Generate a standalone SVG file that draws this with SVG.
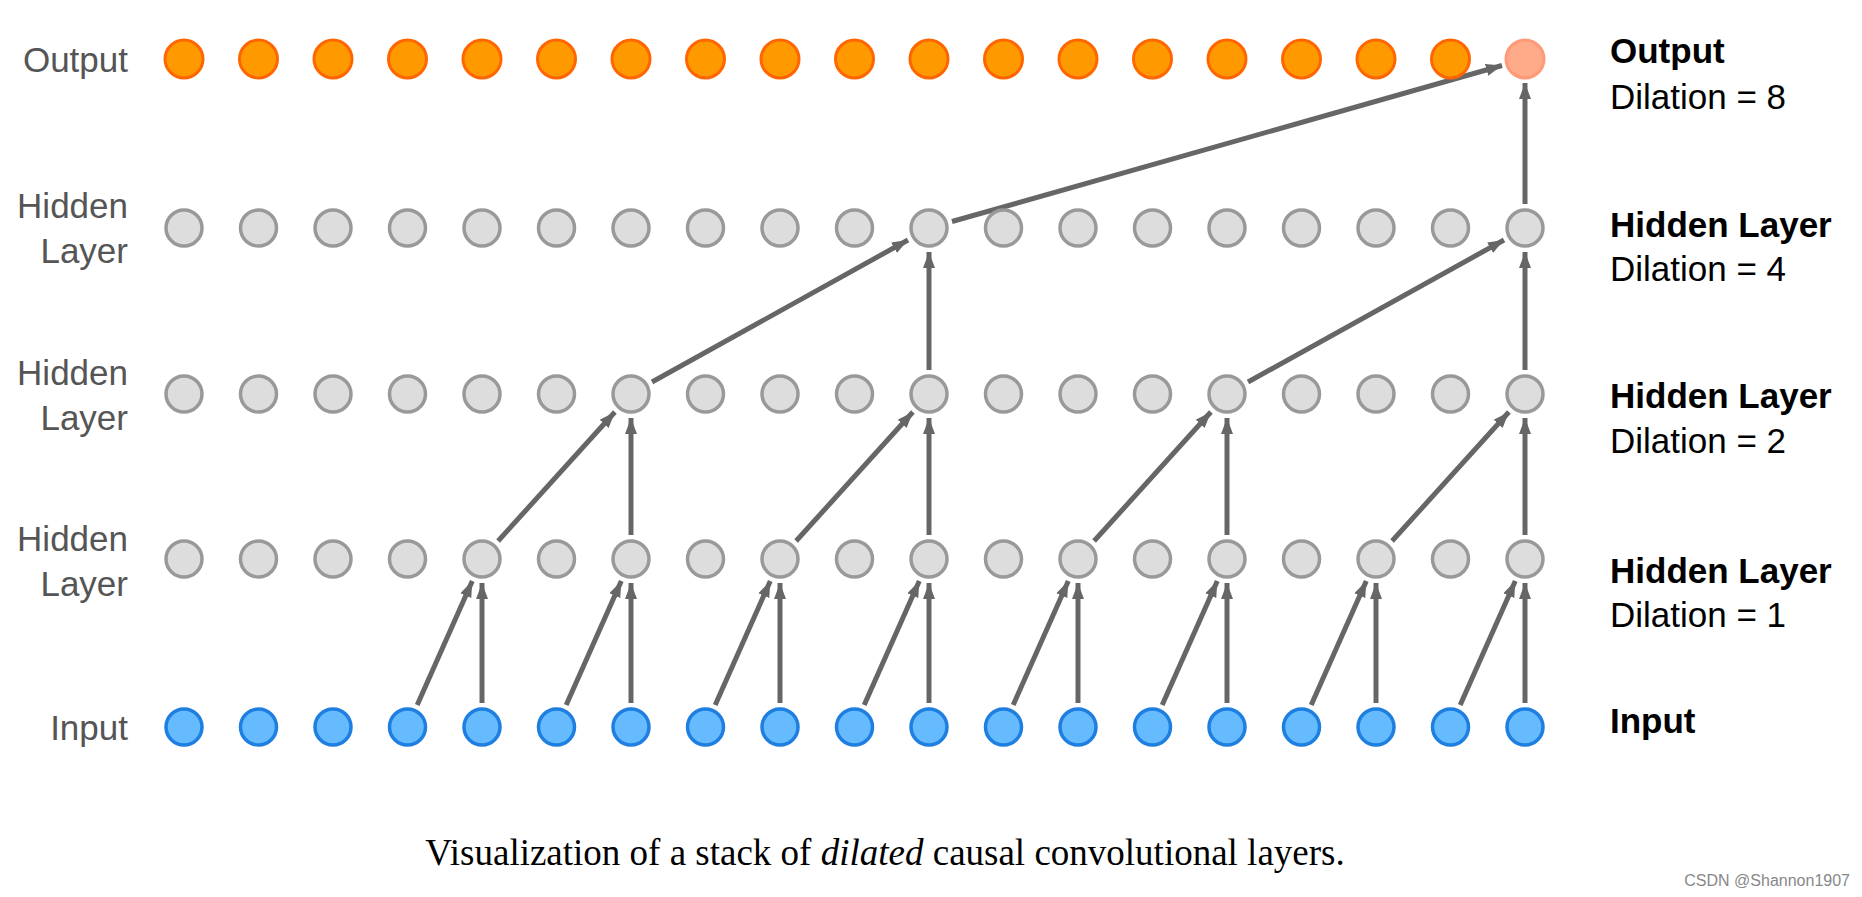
<svg xmlns="http://www.w3.org/2000/svg" width="1862" height="897" viewBox="0 0 1862 897">
<defs>
<style>
.o{fill:#FF9900;stroke:#FF6600;stroke-width:3}
.ol{fill:#FFAA88;stroke:#FF9977;stroke-width:3}
.h{fill:#DDDDDD;stroke:#999999;stroke-width:3.5}
.i{fill:#66BBFF;stroke:#1E7FE0;stroke-width:3.5}
.lab{font-family:"Liberation Sans",Arial,sans-serif;font-size:35px;fill:#555;text-anchor:end}
.rb{font-family:"Liberation Sans",Arial,sans-serif;font-size:35px;font-weight:bold;fill:#000}
.rn{font-family:"Liberation Sans",Arial,sans-serif;font-size:35px;fill:#000}
.cap{font-family:"Liberation Serif","Times New Roman",serif;font-size:37px;fill:#000;text-anchor:middle}
.wm{font-family:"Liberation Sans",Arial,sans-serif;font-size:16px;fill:#888;text-anchor:end}
#edges line{stroke:#666;stroke-width:5;marker-end:url(#ah)}
</style>
<marker id="ah" viewBox="0 0 16 12" refX="16" refY="6" markerWidth="16" markerHeight="13" markerUnits="userSpaceOnUse" orient="auto">
<path d="M0,0 L16,6 L0,12 z" fill="#666"/>
</marker>
</defs>
<rect width="1862" height="897" fill="#fff"/>
<g id="labels-left">
<text class="lab" x="128" y="72">Output</text>
<text class="lab" x="128" y="218">Hidden</text><text class="lab" x="128" y="263">Layer</text>
<text class="lab" x="128" y="385">Hidden</text><text class="lab" x="128" y="430">Layer</text>
<text class="lab" x="128" y="551">Hidden</text><text class="lab" x="128" y="596">Layer</text>
<text class="lab" x="128" y="740">Input</text>
</g>
<g id="labels-right">
<text class="rb" x="1610" y="63">Output</text><text class="rn" x="1610" y="109">Dilation = 8</text>
<text class="rb" x="1610" y="237">Hidden Layer</text><text class="rn" x="1610" y="281">Dilation = 4</text>
<text class="rb" x="1610" y="408">Hidden Layer</text><text class="rn" x="1610" y="453">Dilation = 2</text>
<text class="rb" x="1610" y="583">Hidden Layer</text><text class="rn" x="1610" y="627">Dilation = 1</text>
<text class="rb" x="1610" y="733">Input</text>
</g>
<g id="edges">
<line x1="482" y1="703" x2="482" y2="583"/><line x1="417.2" y1="705" x2="472.3" y2="581"/>
<line x1="631" y1="703" x2="631" y2="583"/><line x1="566.2" y1="705" x2="621.3" y2="581"/>
<line x1="780" y1="703" x2="780" y2="583"/><line x1="715.2" y1="705" x2="770.3" y2="581"/>
<line x1="929" y1="703" x2="929" y2="583"/><line x1="864.2" y1="705" x2="919.3" y2="581"/>
<line x1="1078" y1="703" x2="1078" y2="583"/><line x1="1013.2" y1="705" x2="1068.3" y2="581"/>
<line x1="1227" y1="703" x2="1227" y2="583"/><line x1="1162.2" y1="705" x2="1217.3" y2="581"/>
<line x1="1376" y1="703" x2="1376" y2="583"/><line x1="1311.2" y1="705" x2="1366.3" y2="581"/>
<line x1="1525" y1="703" x2="1525" y2="583"/><line x1="1460.2" y1="705" x2="1515.3" y2="581"/>
<line x1="631" y1="535" x2="631" y2="418"/><line x1="498.1" y1="541" x2="614.9" y2="412"/>
<line x1="929" y1="535" x2="929" y2="418"/><line x1="796.1" y1="541" x2="912.9" y2="412"/>
<line x1="1227" y1="535" x2="1227" y2="418"/><line x1="1094.1" y1="541" x2="1210.9" y2="412"/>
<line x1="1525" y1="535" x2="1525" y2="418"/><line x1="1392.1" y1="541" x2="1508.9" y2="412"/>
<line x1="929" y1="370" x2="929" y2="252"/><line x1="652" y1="382" x2="908" y2="240"/>
<line x1="1525" y1="370" x2="1525" y2="252"/><line x1="1248" y1="382" x2="1504" y2="240"/>
<line x1="1525" y1="204" x2="1525" y2="83"/><line x1="952" y1="221.5" x2="1502" y2="65.5"/>
</g>
<g id="output">
<circle class="o" cx="184" cy="59" r="19"/><circle class="o" cx="258.5" cy="59" r="19"/><circle class="o" cx="333" cy="59" r="19"/><circle class="o" cx="407.5" cy="59" r="19"/><circle class="o" cx="482" cy="59" r="19"/><circle class="o" cx="556.5" cy="59" r="19"/><circle class="o" cx="631" cy="59" r="19"/><circle class="o" cx="705.5" cy="59" r="19"/><circle class="o" cx="780" cy="59" r="19"/><circle class="o" cx="854.5" cy="59" r="19"/><circle class="o" cx="929" cy="59" r="19"/><circle class="o" cx="1003.5" cy="59" r="19"/><circle class="o" cx="1078" cy="59" r="19"/><circle class="o" cx="1152.5" cy="59" r="19"/><circle class="o" cx="1227" cy="59" r="19"/><circle class="o" cx="1301.5" cy="59" r="19"/><circle class="o" cx="1376" cy="59" r="19"/><circle class="o" cx="1450.5" cy="59" r="19"/><circle class="ol" cx="1525" cy="59" r="19"/>
</g>
<g id="hidden4">
<circle class="h" cx="184" cy="228" r="18"/><circle class="h" cx="258.5" cy="228" r="18"/><circle class="h" cx="333" cy="228" r="18"/><circle class="h" cx="407.5" cy="228" r="18"/><circle class="h" cx="482" cy="228" r="18"/><circle class="h" cx="556.5" cy="228" r="18"/><circle class="h" cx="631" cy="228" r="18"/><circle class="h" cx="705.5" cy="228" r="18"/><circle class="h" cx="780" cy="228" r="18"/><circle class="h" cx="854.5" cy="228" r="18"/><circle class="h" cx="929" cy="228" r="18"/><circle class="h" cx="1003.5" cy="228" r="18"/><circle class="h" cx="1078" cy="228" r="18"/><circle class="h" cx="1152.5" cy="228" r="18"/><circle class="h" cx="1227" cy="228" r="18"/><circle class="h" cx="1301.5" cy="228" r="18"/><circle class="h" cx="1376" cy="228" r="18"/><circle class="h" cx="1450.5" cy="228" r="18"/><circle class="h" cx="1525" cy="228" r="18"/>
</g>
<g id="hidden2">
<circle class="h" cx="184" cy="394" r="18"/><circle class="h" cx="258.5" cy="394" r="18"/><circle class="h" cx="333" cy="394" r="18"/><circle class="h" cx="407.5" cy="394" r="18"/><circle class="h" cx="482" cy="394" r="18"/><circle class="h" cx="556.5" cy="394" r="18"/><circle class="h" cx="631" cy="394" r="18"/><circle class="h" cx="705.5" cy="394" r="18"/><circle class="h" cx="780" cy="394" r="18"/><circle class="h" cx="854.5" cy="394" r="18"/><circle class="h" cx="929" cy="394" r="18"/><circle class="h" cx="1003.5" cy="394" r="18"/><circle class="h" cx="1078" cy="394" r="18"/><circle class="h" cx="1152.5" cy="394" r="18"/><circle class="h" cx="1227" cy="394" r="18"/><circle class="h" cx="1301.5" cy="394" r="18"/><circle class="h" cx="1376" cy="394" r="18"/><circle class="h" cx="1450.5" cy="394" r="18"/><circle class="h" cx="1525" cy="394" r="18"/>
</g>
<g id="hidden1">
<circle class="h" cx="184" cy="559" r="18"/><circle class="h" cx="258.5" cy="559" r="18"/><circle class="h" cx="333" cy="559" r="18"/><circle class="h" cx="407.5" cy="559" r="18"/><circle class="h" cx="482" cy="559" r="18"/><circle class="h" cx="556.5" cy="559" r="18"/><circle class="h" cx="631" cy="559" r="18"/><circle class="h" cx="705.5" cy="559" r="18"/><circle class="h" cx="780" cy="559" r="18"/><circle class="h" cx="854.5" cy="559" r="18"/><circle class="h" cx="929" cy="559" r="18"/><circle class="h" cx="1003.5" cy="559" r="18"/><circle class="h" cx="1078" cy="559" r="18"/><circle class="h" cx="1152.5" cy="559" r="18"/><circle class="h" cx="1227" cy="559" r="18"/><circle class="h" cx="1301.5" cy="559" r="18"/><circle class="h" cx="1376" cy="559" r="18"/><circle class="h" cx="1450.5" cy="559" r="18"/><circle class="h" cx="1525" cy="559" r="18"/>
</g>
<g id="input">
<circle class="i" cx="184" cy="727" r="18"/><circle class="i" cx="258.5" cy="727" r="18"/><circle class="i" cx="333" cy="727" r="18"/><circle class="i" cx="407.5" cy="727" r="18"/><circle class="i" cx="482" cy="727" r="18"/><circle class="i" cx="556.5" cy="727" r="18"/><circle class="i" cx="631" cy="727" r="18"/><circle class="i" cx="705.5" cy="727" r="18"/><circle class="i" cx="780" cy="727" r="18"/><circle class="i" cx="854.5" cy="727" r="18"/><circle class="i" cx="929" cy="727" r="18"/><circle class="i" cx="1003.5" cy="727" r="18"/><circle class="i" cx="1078" cy="727" r="18"/><circle class="i" cx="1152.5" cy="727" r="18"/><circle class="i" cx="1227" cy="727" r="18"/><circle class="i" cx="1301.5" cy="727" r="18"/><circle class="i" cx="1376" cy="727" r="18"/><circle class="i" cx="1450.5" cy="727" r="18"/><circle class="i" cx="1525" cy="727" r="18"/>
</g>
<text class="cap" x="885" y="865">Visualization of a stack of <tspan font-style="italic">dilated</tspan> causal convolutional layers.</text>
<text class="wm" x="1850" y="886">CSDN @Shannon1907</text>
</svg>
